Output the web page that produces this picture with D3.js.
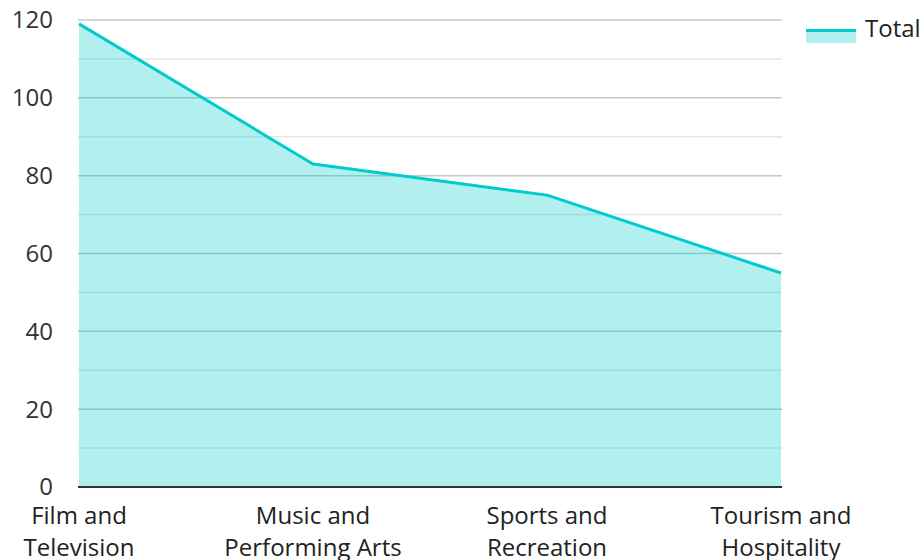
<!DOCTYPE html>
<html>
<head>
<meta charset="utf-8">
<script src="https://cdn.jsdelivr.net/npm/d3@7"></script>
<style>
  body { margin: 0; background: #fff; }
  svg { display: block; font-family: "Open Sans", "Noto Sans", sans-serif; }
</style>
</head>
<body>
<script>
var categories = [["Film and", "Television"], ["Music and", "Performing Arts"], ["Sports and", "Recreation"], ["Tourism and", "Hospitality"]];
var totals = [119, 83, 75, 55];
var seriesName = "Total";
var yTicks = [0, 20, 40, 60, 80, 100, 120];
var minorTicks = [10, 30, 50, 70, 90, 110];

var width = 922, height = 560;
var margin = {left: 79, right: 141, top: 20, bottom: 73};
var fontSize = "24px";

var svg = d3.select("body").append("svg")
	.attr("width", width)
	.attr("height", height);

var x = d3.scalePoint()
	.domain(d3.range(categories.length))
	.range([margin.left, width - margin.right]);

var y = d3.scaleLinear()
	.domain([0, 120])
	.range([height - margin.bottom, margin.top]);

// grid lines
svg.selectAll("line.minor")
	.data(minorTicks)
	.enter().append("line")
	.attr("class", "minor")
	.attr("x1", margin.left - 1).attr("x2", width - margin.right + 1)
	.attr("y1", function(d) { return y(d); }).attr("y2", function(d) { return y(d); })
	.style("stroke", "#e6e6e6").style("stroke-width", 1.5);

svg.selectAll("line.major")
	.data(yTicks.slice(1))
	.enter().append("line")
	.attr("class", "major")
	.attr("x1", margin.left - 1).attr("x2", width - margin.right + 1)
	.attr("y1", function(d) { return y(d); }).attr("y2", function(d) { return y(d); })
	.style("stroke", "#c8c8c8").style("stroke-width", 1.5);

// area + line
var area = d3.area()
	.x(function(d, i) { return x(i); })
	.y0(y(0))
	.y1(function(d) { return y(d); });

var line = d3.line()
	.x(function(d, i) { return x(i); })
	.y(function(d) { return y(d); });

svg.append("path")
	.datum(totals)
	.attr("d", area)
	.style("fill", "#00cccc")
	.style("fill-opacity", 0.3);

svg.append("path")
	.datum(totals)
	.attr("d", line)
	.style("fill", "none")
	.style("stroke", "#00cccc")
	.style("stroke-width", 3)
	.style("stroke-linejoin", "round");

// x axis line
svg.append("line")
	.attr("x1", margin.left - 1).attr("x2", width - margin.right + 1)
	.attr("y1", y(0)).attr("y2", y(0))
	.style("stroke", "#333").style("stroke-width", 2);

// y labels
svg.selectAll("text.ylab")
	.data(yTicks)
	.enter().append("text")
	.attr("class", "ylab")
	.attr("x", 53)
	.attr("y", function(d) { return y(d); })
	.attr("dy", "0.35em")
	.attr("text-anchor", "end")
	.style("font-size", fontSize)
	.style("fill", "#333")
	.text(function(d) { return d; });

// x labels
var xl = svg.selectAll("text.xlab")
	.data(categories)
	.enter().append("text")
	.attr("class", "xlab")
	.attr("text-anchor", "middle")
	.style("font-size", fontSize)
	.style("fill", "#222");

xl.each(function(d, i) {
	var t = d3.select(this);
	d.forEach(function(s, j) {
		t.append("tspan")
			.attr("x", x(i))
			.attr("y", y(0) + 37 + j * 32)
			.text(s);
	});
});

// legend
var lg = svg.append("g").attr("transform", "translate(806,29)");
lg.append("rect")
	.attr("x", 0).attr("y", 0).attr("width", 50).attr("height", 14)
	.style("fill", "#00cccc").style("fill-opacity", 0.3);
lg.append("line")
	.attr("x1", 0).attr("x2", 50).attr("y1", 1.5).attr("y2", 1.5)
	.style("stroke", "#00cccc").style("stroke-width", 3);
lg.append("text")
	.attr("x", 59).attr("y", 8)
	.style("font-size", fontSize)
	.style("fill", "#222")
	.text(seriesName);
</script>
</body>
</html>
